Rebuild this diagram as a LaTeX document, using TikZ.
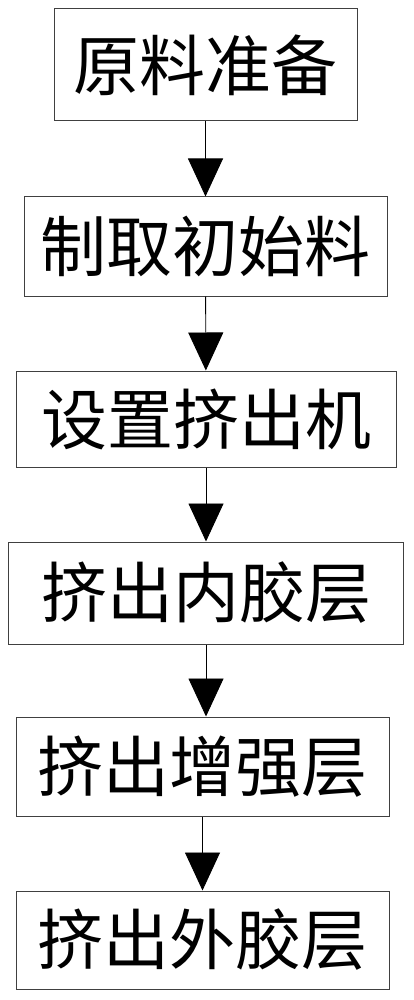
\documentclass[tikz,border=0pt]{standalone}
\usepackage{fontspec}
\newfontfamily\cjk{Noto Sans CJK SC}
\usetikzlibrary{arrows.meta}
\begin{document}
\begin{tikzpicture}[x=1pt,y=-1pt,
  stepbox/.style={draw=black!75, line width=1pt, inner sep=0pt,
    font=\cjk\fontsize{66}{66}\selectfont},
  flow/.style={line width=0.9pt, -{Triangle[width=35pt,length=38pt]}}]
\useasboundingbox (0,0) rectangle (414,1000);
\node [stepbox, minimum width=303pt, minimum height=112pt] (yuanliao) at (205.5,65) {原料准备};
\node [stepbox, minimum width=363pt, minimum height=99pt] (chushi) at (205.5,246.5) {制取初始料};
\node [stepbox, minimum width=380pt, minimum height=96pt] (jichuji) at (206,419) {设置挤出机};
\node [stepbox, minimum width=395pt, minimum height=102pt] (neijiao) at (206,593) {挤出内胶层};
\node [stepbox, minimum width=373pt, minimum height=99pt] (zengqiang) at (202.5,766.5) {挤出增强层};
\node [stepbox, minimum width=373pt, minimum height=98pt] (waijiao) at (202.5,940) {挤出外胶层};
\draw [flow] (yuanliao) -- (chushi);
\draw [flow] (chushi) -- (jichuji);
\draw [flow] (jichuji) -- (neijiao);
\draw [flow] (neijiao.south) -- (neijiao.south |- zengqiang.north);
\draw [flow] (zengqiang) -- (waijiao);
\end{tikzpicture}
\end{document}
